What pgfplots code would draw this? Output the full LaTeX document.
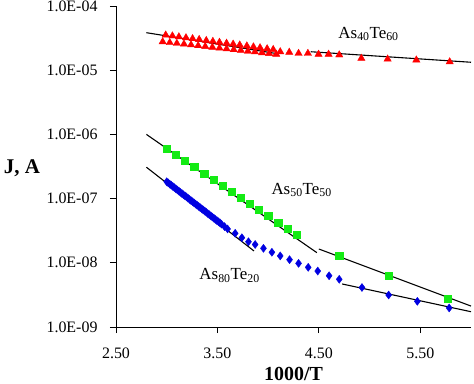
\documentclass[border=0pt]{standalone}
\usepackage{pgfplots}
\pgfplotsset{compat=1.18}
\usepackage{fontspec}
\setmainfont{Liberation Serif}
\definecolor{mred}{RGB}{255,0,0}
\definecolor{mgreen}{RGB}{20,235,20}
\definecolor{mblue}{RGB}{0,0,225}
\begin{document}
\begin{tikzpicture}
\begin{axis}[
  scale only axis,
  width=355bp, height=321bp,
  xmin=2.5, xmax=6.0,
  ymode=log, ymin=1e-9, ymax=1e-4,
  axis x line*=bottom, axis y line*=left,
  xtick={2.5,3.5,4.5,5.5},
  xticklabels={2.50,3.50,4.50,5.50},
  ytick={1e-9,1e-8,1e-7,1e-6,1e-5,1e-4},
  yticklabels={1.0E-09,1.0E-08,1.0E-07,1.0E-06,1.0E-05,1.0E-04},
  yminorticks=false, xminorticks=false,
  tick align=outside, major tick length=6bp,
  tick style={black, line width=1pt},
  axis line style={black, line width=1pt},
  tick label style={font=\fontsize{16}{18}\selectfont},
  yticklabel style={xshift=-9bp},
  xticklabel style={yshift=-11bp},
  ylabel={J, A},
  ylabel style={rotate=-90, at={(axis description cs:-0.265,0.495)}, anchor=center, font=\bfseries\fontsize{21}{24}\selectfont},
  xlabel={1000/T},
  xlabel style={at={(axis description cs:0.5,-0.145)}, anchor=center, font=\bfseries\fontsize{20}{22}\selectfont},
  clip=false,
]
% red triangles, dense rows
\addplot[only marks, mark=triangle*, mark size=4.2bp, color=mred] coordinates {
(2.96,2.77e-5)(3.03,2.69e-5)(3.10,2.62e-5)(3.17,2.55e-5)(3.24,2.48e-5)(3.31,2.41e-5)
(3.38,2.34e-5)(3.45,2.28e-5)(3.52,2.21e-5)(3.59,2.15e-5)(3.66,2.09e-5)(3.73,2.04e-5)
(3.80,1.98e-5)(3.87,1.93e-5)(3.94,1.87e-5)(4.01,1.82e-5)(4.08,1.77e-5)
};
\addplot[only marks, mark=triangle*, mark size=4.2bp, color=mred] coordinates {
(2.99,3.53e-5)(3.056,3.42e-5)(3.12,3.31e-5)(3.19,3.20e-5)(3.255,3.10e-5)(3.32,3.01e-5)
(3.39,2.90e-5)(3.455,2.81e-5)(3.52,2.72e-5)(3.59,2.63e-5)(3.655,2.55e-5)(3.72,2.47e-5)
(3.79,2.39e-5)(3.855,2.31e-5)(3.92,2.24e-5)(3.99,2.16e-5)(4.05,2.10e-5)
(4.119,1.94e-5)(4.208,1.90e-5)(4.300,1.83e-5)(4.392,1.83e-5)(4.497,1.77e-5)(4.596,1.77e-5)
(4.701,1.73e-5)(4.919,1.53e-5)(5.178,1.49e-5)(5.461,1.44e-5)(5.790,1.35e-5)
};
% green squares
\addplot[only marks, mark=square*, mark size=3.6bp, color=mgreen] coordinates {
(3.00,6.07e-7)(3.09,4.88e-7)(3.18,3.92e-7)(3.27,3.15e-7)(3.37,2.47e-7)(3.46,1.99e-7)
(3.55,1.60e-7)(3.64,1.28e-7)(3.73,1.03e-7)(3.82,8.28e-8)(3.91,6.65e-8)(4.00,5.35e-8)
(4.10,4.19e-8)(4.19,3.37e-8)(4.28,2.71e-8)
(4.70,1.28e-8)(5.19,6.3e-9)(5.77,2.78e-9)
};
% blue diamonds
\addplot[only marks, mark=diamond*, mark size=4bp, color=mblue] coordinates {
(3.00,1.832e-7)(3.03,1.683e-7)(3.06,1.549e-7)(3.09,1.422e-7)(3.12,1.307e-7)(3.15,1.200e-7)
(3.18,1.104e-7)(3.21,1.014e-7)(3.24,9.31e-8)(3.27,8.57e-8)(3.30,7.87e-8)(3.33,7.23e-8)
(3.36,6.64e-8)(3.39,6.11e-8)(3.42,5.61e-8)(3.45,5.15e-8)(3.48,4.73e-8)(3.51,4.36e-8)
(3.54,4.00e-8)(3.57,3.67e-8)(3.60,3.37e-8)
(3.015,1.76e-7)(3.045,1.615e-7)(3.075,1.485e-7)(3.105,1.365e-7)(3.135,1.25e-7)(3.165,1.15e-7)
(3.195,1.06e-7)(3.225,9.7e-8)(3.255,8.95e-8)(3.285,8.2e-8)(3.315,7.55e-8)(3.345,6.95e-8)
(3.375,6.4e-8)(3.405,5.85e-8)(3.435,5.4e-8)(3.465,4.95e-8)(3.495,4.55e-8)(3.525,4.2e-8)
(3.675,2.88e-8)(3.741,2.46e-8)(3.806,2.13e-8)(3.872,1.93e-8)(3.954,1.68e-8)(4.037,1.46e-8)
(4.119,1.28e-8)(4.211,1.12e-8)(4.300,9.8e-9)(4.395,8.5e-9)(4.489,7.45e-9)(4.601,6.28e-9)
(4.701,5.53e-9)(4.925,4.12e-9)(5.188,3.15e-9)(5.471,2.51e-9)(5.785,1.98e-9)
};
% fit lines
\addplot[black, line width=1.1pt, no marks] coordinates {(2.80,3.84e-5)(4.07,1.83e-5)};
\addplot[black, line width=1.1pt, no marks] coordinates {(4.42,1.94e-5)(6.0,1.33e-5)};
\addplot[black, line width=1.1pt, no marks] coordinates {(2.80,1.0e-6)(4.48,1.44e-8)};
\addplot[black, line width=1.1pt, no marks] coordinates {(4.50,1.64e-8)(6.0,2.12e-9)};
\addplot[black, line width=1.1pt, no marks] coordinates {(2.80,3.08e-7)(3.86,1.53e-8)};
\addplot[black, line width=1.1pt, no marks] coordinates {(4.73,4.68e-9)(6.0,1.73e-9)};
% labels
\node[font=\fontsize{17}{20}\selectfont] at (axis cs:4.99,3.66e-5) {As\textsubscript{40}Te\textsubscript{60}};
\node[font=\fontsize{17}{20}\selectfont] at (axis cs:4.33,1.36e-7) {As\textsubscript{50}Te\textsubscript{50}};
\node[font=\fontsize{17}{20}\selectfont] at (axis cs:3.62,6.3e-9) {As\textsubscript{80}Te\textsubscript{20}};
\end{axis}
\pgfresetboundingbox
\path (-116bp,-57bp) rectangle (358bp,327bp);
\end{tikzpicture}
\end{document}
